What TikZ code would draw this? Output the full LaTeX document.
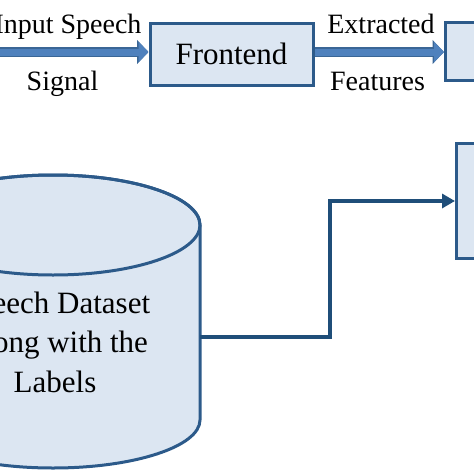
\documentclass[tikz,border=0pt]{standalone}
\usepackage{fontspec}
\setmainfont{Liberation Serif}
\usetikzlibrary{arrows.meta}
\definecolor{boxfill}{HTML}{DCE6F2}
\definecolor{boxline}{HTML}{2C5A8A}
\definecolor{flowblue}{HTML}{4F81BD}
\definecolor{flowedge}{HTML}{3A6696}
\definecolor{linkblue}{HTML}{1F4E79}
\tikzset{
  block/.style={draw=boxline, fill=boxfill, line width=3pt, inner sep=0pt},
  flow/.style={draw=flowblue, line width=7pt, -{Triangle[length=10pt,width=20pt]},
    preaction={draw=flowedge, line width=9.5pt, -{Triangle[length=11.5pt,width=23.5pt]}}},
  link/.style={draw=linkblue, line width=4pt, -{Triangle[length=13pt,width=14pt]}},
  tag/.style={font=\fontsize{28}{34}\selectfont, anchor=base}
}
\begin{document}
\begin{tikzpicture}[x=1pt,y=-1pt]
  \clip (0,0) rectangle (474,474);
  \node[block, minimum width=163pt, minimum height=62pt,
    font=\fontsize{31}{37}\selectfont] (front) at (231.5,54) {Frontend};
  \node[block, minimum width=100pt, minimum height=58pt, anchor=north west]
    (backend) at (444,21) {};
  \node[block, minimum width=60pt, minimum height=115pt, anchor=north west]
    (trainbox) at (455,142) {};
  \filldraw[block] (200,225) -- (200,420)
    arc[start angle=0, end angle=180, x radius=147, y radius=48]
    -- (-94,225) arc[start angle=180, end angle=360, x radius=147, y radius=50]
    -- cycle;
  \draw[block, fill=none] (53,225) ellipse[x radius=147, y radius=50];
  \node[font=\fontsize{31}{39.5}\selectfont, align=center] (dbtext) at (55,342)
    {Speech Dataset\\Along with the\\Labels};
  \coordinate (dbport) at (200,337); \coordinate (speechin) at (-10,52);
  \node[tag] (speechlabel) at (68,33) {Input Speech};
  \node[tag] (signallabel) at (62.5,90) {Signal};
  \node[tag] (extractlabel) at (381,33) {Extracted};
  \node[tag] (featlabel) at (377.5,90) {Features};
  \draw[flow] (speechin) -- (front.west |- speechin);
  \draw[flow] (front.east |- speechin) -- (backend.west |- speechin);
  \draw[link] (dbport) -- ++(130,0) |- (trainbox.west);
\end{tikzpicture}
\end{document}
